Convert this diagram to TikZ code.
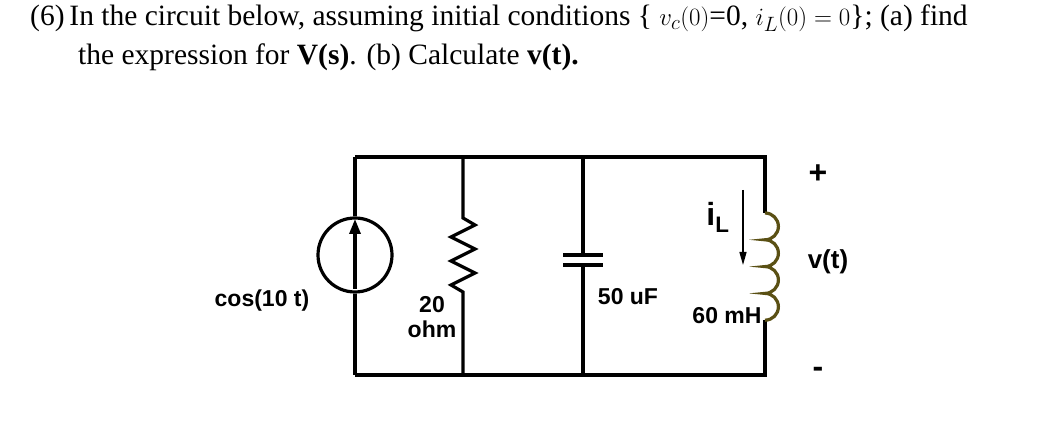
\documentclass[tikz,border=0pt]{standalone}
\usepackage{fontspec}
\setmainfont{Liberation Serif}
\newfontfamily\lblfont{Liberation Sans}
\usetikzlibrary{arrows.meta}
\tikzset{
  wire/.style={line width=3.2pt},
  lbl/.style={font=\lblfont\bfseries\fontsize{23}{25}\selectfont, inner sep=0pt},
  ttl/.style={font=\fontsize{29.5}{33}\selectfont, anchor=base west, inner sep=0pt}
}
\begin{document}
\begin{tikzpicture}[x=1pt,y=1pt]
\useasboundingbox (0,0) rectangle (1058,435);
% title
\node[ttl] (t1) at (30,409) {(6)\,In the circuit below, assuming initial conditions \{ $v_c(0)$=0, $i_L(0)=0$\}; (a) find};
\node[ttl] (t2) at (78,370) {the expression for \textbf{V(s)}. (b) Calculate \textbf{v(t).}};
% corners
\coordinate (tl) at (355,278); \coordinate (bl) at (355,60);
\coordinate (tr) at (765,278); \coordinate (br) at (765,60);
\coordinate (rt) at (463,278); \coordinate (rb) at (463,60);
\coordinate (ct) at (583,278); \coordinate (cb) at (583,60);
% source
\node[draw, circle, line width=3.2pt, minimum size=74pt] (src) at (355,180) {};
\draw[wire] (tl) -- (src.north);
\draw[wire] (src.south) -- (bl);
\draw[wire, -{Triangle[length=15pt,width=11pt]}] (355,146) -- (355,216);
% frame
\draw[wire] (tl) -- (tr) -- (765,222);
\draw[wire] (bl) -- (br) -- (765,115);
% resistor
\draw[wire] (rt) -- (463,217) -- (475,210) -- (451,198) -- (475,186) -- (451,174) -- (475,162) -- (451,150) -- (463,143) -- (rb);
% capacitor
\draw[wire] (ct) -- (583,180);
\draw[wire] (563,180) -- (603,180);
\draw[wire] (563,170) -- (603,170);
\draw[wire] (583,170) -- (cb);
% inductor
\draw[line width=3.2pt, color={rgb,255:red,90;green,80;blue,20}] (765,222)
  arc[start angle=90,end angle=-90,radius=13.4]
  arc[start angle=90,end angle=-90,radius=13.4]
  arc[start angle=90,end angle=-90,radius=13.4]
  arc[start angle=90,end angle=-90,radius=13.4];
% current arrow
\coordinate (ia) at (743,245); \coordinate (ib) at (743,170);
\draw[line width=1.4pt, -{Triangle[length=13pt,width=7pt]}] (ia) -- (ib);
% labels
\node[lbl] (lsrc) at (262,134) {cos(10 t)};
\node[lbl] (lr1) at (432,130) {20};
\node[lbl] (lr2) at (432,106) {ohm};
\node[lbl] (lc) at (628,138) {50 uF};
\node[lbl] (ll) at (727,119) {60 mH};
\node[lbl, font=\lblfont\bfseries\fontsize{32}{34}\selectfont] (li) at (718,218) {i\textsubscript{L}};
\node[lbl, font=\lblfont\bfseries\fontsize{32}{34}\selectfont] (lp) at (818,261) {+};
\node[lbl, font=\lblfont\bfseries\fontsize{26}{28}\selectfont] (lv) at (828,173) {v(t)};
\node[lbl, font=\lblfont\bfseries\fontsize{32}{34}\selectfont] (lm) at (818,63) {-};
\end{tikzpicture}
\end{document}
